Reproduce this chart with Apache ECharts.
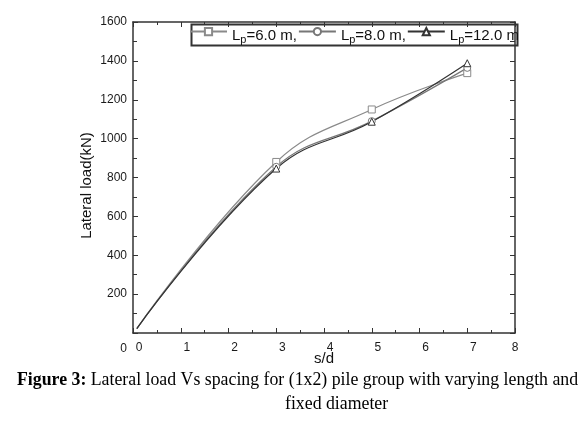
<!DOCTYPE html>
<html>
<head>
<meta charset="utf-8">
<script src="https://cdn.jsdelivr.net/npm/echarts@6/dist/echarts.min.js"></script>
<style>
	html, body { margin: 0; padding: 0; background: #fff; }
	#chart { width: 588px; height: 424px; }
</style>
</head>
<body>
<div id="chart"></div>
<script>
// values (s/d vs lateral load, kN)
var sdValues = [0.08, 3, 5, 7];
var load6 = [23, 880, 1150, 1337];   // Lp = 6.0 m
var load8 = [23, 855, 1090, 1364];   // Lp = 8.0 m
var load12 = [23, 846, 1087, 1388];  // Lp = 12.0 m
var seriesNames = ['Lp=6.0 m,', 'Lp=8.0 m,', 'Lp=12.0 m'];
var xTicks = [0, 1, 2, 3, 4, 5, 6, 7, 8];
var yTicks = [0, 200, 400, 600, 800, 1000, 1200, 1400, 1600];

var chart = {

	build: function() {
		var myChart = echarts.init(document.getElementById('chart'));

		var toPoints = function(ys) { // first point has no marker in the figure
			return ys.map(function(y, i) {
				var p = { value: [sdValues[i], y] };
				if (i === 0) p.symbol = 'none';
				return p;
			});
		};

		var tickFont = { fontFamily: 'Liberation Sans', fontSize: 12, color: '#1a1a1a' };
		var frameLine = { onZero: false, lineStyle: { color: '#333', width: 1.5 } };
		var tick = { inside: true, length: 5, lineStyle: { color: '#333' } };

		var line = function(name, ys, symbol, color) {
			return {
				name: name,
				type: 'line',
				smooth: 0.42,
				data: toPoints(ys),
				symbol: symbol,
				symbolSize: 7,
				lineStyle: { color: color, width: 1.2 },
				itemStyle: { color: '#fff', borderColor: color, borderWidth: 1 },
				emphasis: { disabled: true }
			};
		};

		var option = {
			animation: false,
			grid: { left: 133, right: 73, top: 22, bottom: 91 },
			legend: {
				left: 189, top: 27,
				padding: [0, 0, 0, 0],
				itemWidth: 37, itemHeight: 9, itemGap: 1,
				data: seriesNames,
				formatter: function(name) {
					return '{n|L}{s|p}{n|' + name.slice(2) + '}';
				},
				textStyle: {
					rich: {
						n: { fontFamily: 'Liberation Sans', fontSize: 15, color: '#111', padding: [8, 0, 0, 0] },
						s: { fontFamily: 'Liberation Sans', fontSize: 11, color: '#111', padding: [16, 0, 0, 0] }
					}
				}
			},
			xAxis: [{
				type: 'value', min: 0, max: 8, interval: 1,
				name: 's/d', nameLocation: 'middle', nameGap: 18, nameMoveOverlap: false,
				nameTextStyle: { fontFamily: 'Liberation Sans', fontSize: 15, color: '#111' },
				axisLine: frameLine,
				axisTick: tick,
				minorTick: { show: true, splitNumber: 2, length: 3, lineStyle: { color: '#333' } },
				splitLine: { show: false },
				axisLabel: {
					margin: 9,
					formatter: function(v) {
						return v === xTicks[xTicks.length - 1] ? '{e|' + v + '}' : '{a|' + v + '}';
					},
					rich: {
						a: Object.assign({ padding: [0, 0, 0, 12] }, tickFont),
						e: tickFont
					}
				}
			}, {
				type: 'value', position: 'top', min: 0, max: 8, interval: 1,
				axisLine: frameLine,
				axisTick: tick,
				minorTick: { show: true, splitNumber: 2, length: 3, lineStyle: { color: '#333' } },
				splitLine: { show: false },
				axisLabel: { show: false }
			}],
			yAxis: [{
				type: 'value', min: 0, max: 1600, interval: 200,
				name: 'Lateral load(kN)', nameLocation: 'middle', nameGap: 39, nameMoveOverlap: false,
				nameTextStyle: { fontFamily: 'Liberation Sans', fontSize: 15, color: '#111', padding: [0, 0, 0, -16] },
				axisLine: frameLine,
				axisTick: tick,
				minorTick: { show: true, splitNumber: 2, length: 4, lineStyle: { color: '#333' } },
				splitLine: { show: false },
				axisLabel: {
					margin: 6,
					formatter: function(v) {
						return v === yTicks[0] ? '{z|0}' : '{a|' + v + '}';
					},
					rich: {
						a: tickFont,
						z: Object.assign({ padding: [31, 0, 0, 0] }, tickFont)
					}
				}
			}, {
				type: 'value', position: 'right', min: 0, max: 1600, interval: 200,
				axisLine: frameLine,
				axisTick: tick,
				minorTick: { show: true, splitNumber: 2, length: 5, lineStyle: { color: '#333' } },
				splitLine: { show: false },
				axisLabel: { show: false }
			}],
			graphic: [{
				type: 'rect', left: 189, top: 22, z: 0,
				shape: { width: 326, height: 21 },
				style: { fill: 'none', stroke: '#333', lineWidth: 2 }
			}, {
				type: 'text', left: 17, top: 371,
				style: {
					text: '{b|Figure 3:} Lateral load Vs spacing for (1x2) pile group with varying length and',
					fontFamily: 'Liberation Serif', fontSize: 17.8, fill: '#000',
					rich: { b: { fontFamily: 'Liberation Serif', fontSize: 17.8, fontWeight: 'bold', color: '#000' } }
				}
			}, {
				type: 'text', left: 285, top: 395,
				style: { text: 'fixed diameter', fontFamily: 'Liberation Serif', fontSize: 17.8, fill: '#000' }
			}],
			series: [
				line(seriesNames[0], load6, 'rect', '#8a8a8a'),
				line(seriesNames[1], load8, 'circle', '#777777'),
				line(seriesNames[2], load12, 'triangle', '#333333')
			]
		};
		myChart.setOption(option);
	}

};

chart.build();
</script>
</body>
</html>
